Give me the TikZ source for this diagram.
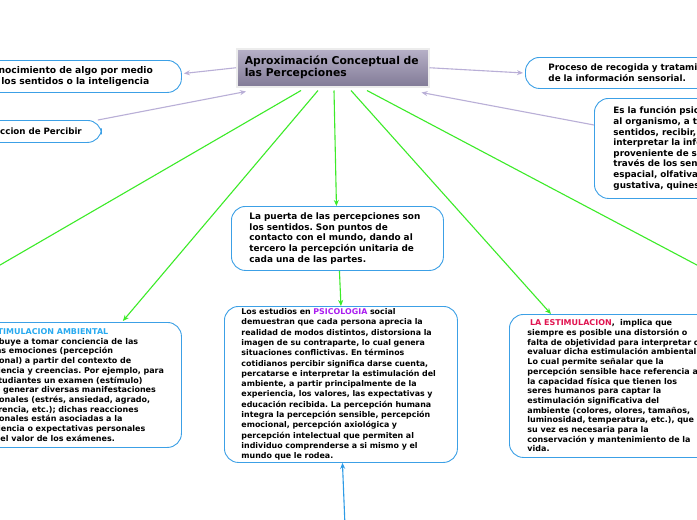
\documentclass[tikz,border=0pt]{standalone}
\usepackage{fontspec}
\setmainfont{DejaVu Sans}
\usetikzlibrary{arrows.meta,calc,shadows}
\definecolor{boxblue}{RGB}{60,160,230}
\definecolor{lgreen}{RGB}{60,235,40}
\definecolor{lav}{RGB}{185,175,215}
\definecolor{headblue}{RGB}{40,170,240}
\definecolor{psimag}{RGB}{170,30,240}
\definecolor{crim}{RGB}{225,20,80}
\definecolor{arrblue}{RGB}{45,155,230}
\newcommand{\fs}[2]{\fontsize{#1}{#2}\selectfont\bfseries\frenchspacing}
\tikzset{
  mbox/.style={draw=boxblue, fill=white, line width=0.9pt, rounded corners=14pt,
    anchor=north west, align=left, inner ysep=2pt,
    font=\fs{8}{10.3}},
  cbox/.style={draw=white!85!gray, line width=1.5pt, top color=black!18!lav!70!white, bottom color=black!30!lav,
    anchor=north west, align=left, inner xsep=8pt,
    drop shadow={shadow xshift=1pt, shadow yshift=-1.5pt, opacity=0.35},
    font=\fs{10.8}{12}},
  garr/.style={draw=lgreen, line width=1.1pt, -{Stealth[length=6pt,width=5pt]}},
  gline/.style={draw=lgreen, line width=1.1pt},
  larr/.style={draw=lav, line width=1.1pt, -{Stealth[length=6pt,width=5pt]}},
  barr/.style={draw=arrblue, line width=1.1pt, -{Stealth[length=6pt,width=5pt]}}
}
\begin{document}
\begin{tikzpicture}[x=1pt,y=-1pt]
\useasboundingbox (0,0) rectangle (697,520);
\fill[white] (0,0) rectangle (697,520);

\node[cbox, text width=176pt, minimum height=38pt] (center) at (236,48)
  {Aproximación Conceptual de\\las Percepciones};

\node[mbox, inner xsep=16pt, text width=180pt, minimum height=32pt, font=\fs{9.2}{11.5}] (n1) at (-31,60)
  {Conocimiento de algo por medio\\de los sentidos o la inteligencia};

\node[mbox, inner xsep=18pt, text width=90pt, minimum height=22pt, font=\fs{8.7}{10.5}] (accion) at (-25,120)
  {Accion de Percibir};

\node[mbox, inner xsep=23pt, text width=250pt, minimum height=31pt, font=\fs{8.8}{11}] (proceso) at (525,57)
  {Proceso de recogida y tratamiento\\de la información sensorial.};

\node[mbox, inner xsep=19pt, text width=250pt, minimum height=100pt, font=\fs{8.8}{10.6}] (funcion) at (594,98)
  {Es la función psicológica que permite\\al organismo, a través de los\\sentidos, recibir, elaborar e\\interpretar la información\\proveniente de su entorno, a\\través de los sentidos visual,\\espacial, olfativa, auditiva,\\gustativa, quinestésica.};

\node[mbox, inner xsep=18pt, text width=176pt, minimum height=64pt, font=\fs{8.9}{10.8}] (puerta) at (231,206)
  {La puerta de las percepciones son\\los sentidos. Son puntos de\\contacto con el mundo, dando al\\tercero la percepción unitaria de\\cada una de las partes.};

\node[mbox, inner xsep=17pt, text width=199pt, minimum height=156pt, font=\fs{7.9}{10.3}] (estudios) at (224,306)
  {Los estudios en \textcolor{psimag}{PSICOLOGIA} social\\demuestran que cada persona aprecia la\\realidad de modos distintos, distorsiona la\\imagen de su contraparte, lo cual genera\\situaciones conflictivas. En términos\\cotidianos percibir significa darse cuenta,\\percatarse e interpretar la estimulación del\\ambiente, a partir principalmente de la\\experiencia, los valores, las expectativas y\\educación recibida. La percepción humana\\integra la percepción sensible, percepción\\emocional, percepción axiológica y\\percepción intelectual que permiten al\\individuo comprenderse a si mismo y el\\mundo que le rodea.};

\node[mbox, inner xsep=18pt, text width=250pt, minimum height=143pt, font=\fs{8}{9.7}] (estim) at (509,314)
  {\ \textcolor{crim}{LA ESTIMULACION},\ \ implica que\\siempre es posible una distorsión o\\falta de objetividad para interpretar o\\evaluar dicha estimulación ambiental.\\Lo cual permite señalar que la\\percepción sensible hace referencia a\\la capacidad física que tienen los\\seres humanos para captar la\\estimulación significativa del\\ambiente (colores, olores, tamaños,\\luminosidad, temperatura, etc.), que a\\su vez es necesaria para la\\conservación y mantenimiento de la\\vida.};

\node[mbox, inner xsep=11pt, text width=198pt, minimum height=125pt, font=\fs{8}{9.7}] (ambiental) at (-39,322)
  {\textcolor{headblue}{LA ESTIMULACION AMBIENTAL}\\contribuye a tomar conciencia de las\\propias emociones (percepción\\emocional) a partir del contexto de\\experiencia y creencias. Por ejemplo, para\\los estudiantes un examen (estímulo)\\puede generar diversas manifestaciones\\emocionales (estrés, ansiedad, agrado,\\indiferencia, etc.); dichas reacciones\\emocionales están asociadas a la\\experiencia o expectativas personales\\sobre el valor de los exámenes.};

\coordinate (offL) at (-12,272);
\coordinate (offR) at (712,273);
\coordinate (bot) at (345,526);

% lavender connectors
\draw[larr] (center.west) -- ($(n1.east)+(2,-3)$);
\draw[larr] ($(accion.north east)+(-4,0)$) -- ($(center.south west)+(10,4)$);
\draw[larr] (center.east) -- ($(proceso.west)+(-2,0)$);
\draw[larr] ($(funcion.north west)+(0,27)$) -- ($(center.south east)+(-8,5)$);

% green connectors
\draw[gline] ($(center.south west)+(65,3)$) -- (offL);
\draw[garr] ($(center.south west)+(82,3)$) -- ($(ambiental.north east)+(-59,-1)$);
\draw[garr] ($(center.south west)+(98,3)$) -- ($(puerta.north)+(-1,0)$);
\draw[garr] ($(puerta.south)+(2,0)$) -- ($(estudios.north)+(0,0)$);
\draw[garr] ($(center.south west)+(115,3)$) -- ($(estim.north west)+(42,0)$);
\draw[gline] ($(center.south west)+(131,3)$) -- (offR);

% blue connector
\draw[barr] (bot) -- ($(estudios.south)+(1.5,0)$);
\end{tikzpicture}
\end{document}
